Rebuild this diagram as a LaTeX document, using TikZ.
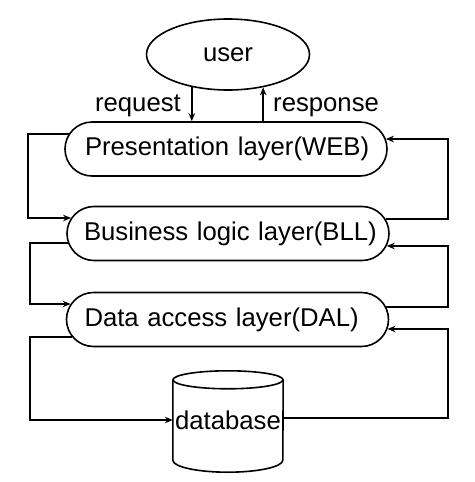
\documentclass[tikz,border=0pt]{standalone}
\usepackage{fontspec}
\setmainfont{Liberation Sans}
\usetikzlibrary{shapes.geometric,arrows.meta}
\begin{document}
\begin{tikzpicture}[x=1pt,y=-1pt,
  txt/.style={font=\fontsize{25.7}{30}\selectfont},
  layer/.style={txt, draw, rectangle, rounded corners=27pt, minimum width=322pt,
    minimum height=54pt, text width=322pt, inner xsep=0pt, inner ysep=0pt,
    align=left, line width=1.6pt},
  usernode/.style={txt, draw, ellipse, minimum width=163pt, minimum height=71pt, line width=1.6pt},
  arr/.style={line width=1.6pt, -{Stealth[length=8pt,width=6.5pt]}},
  conn/.style={line width=1.6pt}
]
\useasboundingbox (0,0) rectangle (474,482);
\node[usernode] (user) at (228,54.5) {user};
\node[layer] (web) at (226,149) {\hspace*{20pt}Presentation layer(WEB)};
\node[layer] (bll) at (228,233.5) {\hspace*{17pt}Business logic layer(BLL)};
\node[layer] (dal) at (227.5,319.5) {\hspace*{18pt}Data access layer(DAL)};
\node[txt, inner sep=0pt, minimum width=110pt, minimum height=80pt] (db) at (228,420) {database};
% cylinder outline
\draw[conn] (db.north west) -- (db.south west)
  arc[start angle=180, end angle=360, x radius=55pt, y radius=12pt] -- (db.north east);
\draw[conn] (db.north) ellipse [x radius=55pt, y radius=9pt];
% labels
\node[txt, anchor=base east, inner sep=0pt] (req) at (181,111.5) {request};
\node[txt, anchor=base west, inner sep=0pt] (resp) at (273,111.5) {response};
% request / response
\draw[arr] (user.222.5) -- (user.222.5 |- web.north);
\draw[arr] (user.317.5 |- web.north) -- (user.317.5);
% side coordinates
\coordinate (L1) at (28,0);
\coordinate (L2) at (30,0);
\coordinate (R) at (448,0);
\coordinate (w1) at ([xshift=4.55pt,yshift=15pt]web.west);
\coordinate (w2) at ([xshift=-1.92pt,yshift=10pt]web.east);
\coordinate (b1) at ([xshift=4.9pt,yshift=15.5pt]bll.west);
\coordinate (b2) at ([xshift=-4.22pt,yshift=14.5pt]bll.east);
\coordinate (b3) at ([xshift=1.73pt,yshift=-9.5pt]bll.west);
\coordinate (b4) at ([xshift=-3.07pt,yshift=-12.5pt]bll.east);
\coordinate (d1) at ([xshift=4.9pt,yshift=15.5pt]dal.west);
\coordinate (d2) at ([xshift=-3.07pt,yshift=12.5pt]dal.east);
\coordinate (d3) at ([xshift=6.44pt,yshift=-17.5pt]dal.west);
\coordinate (d4) at ([xshift=-1.73pt,yshift=-9.5pt]dal.east);
\coordinate (dbw) at ([yshift=0pt]db.west);
\coordinate (dbe) at ([yshift=2pt]db.east);
% connectors
\draw[arr] (w1) -- (w1 -| L1) |- (b1);
\draw[arr] (b2) -- (b2 -| R) |- (w2);
\draw[arr] (b3) -- (b3 -| L2) |- (d1);
\draw[arr] (d2) -- (d2 -| R) |- (b4);
\draw[arr] (d3) -- (d3 -| L2) |- (dbw);
\draw[arr] (dbe) -- (dbe -| R) |- (d4);
\end{tikzpicture}
\end{document}
